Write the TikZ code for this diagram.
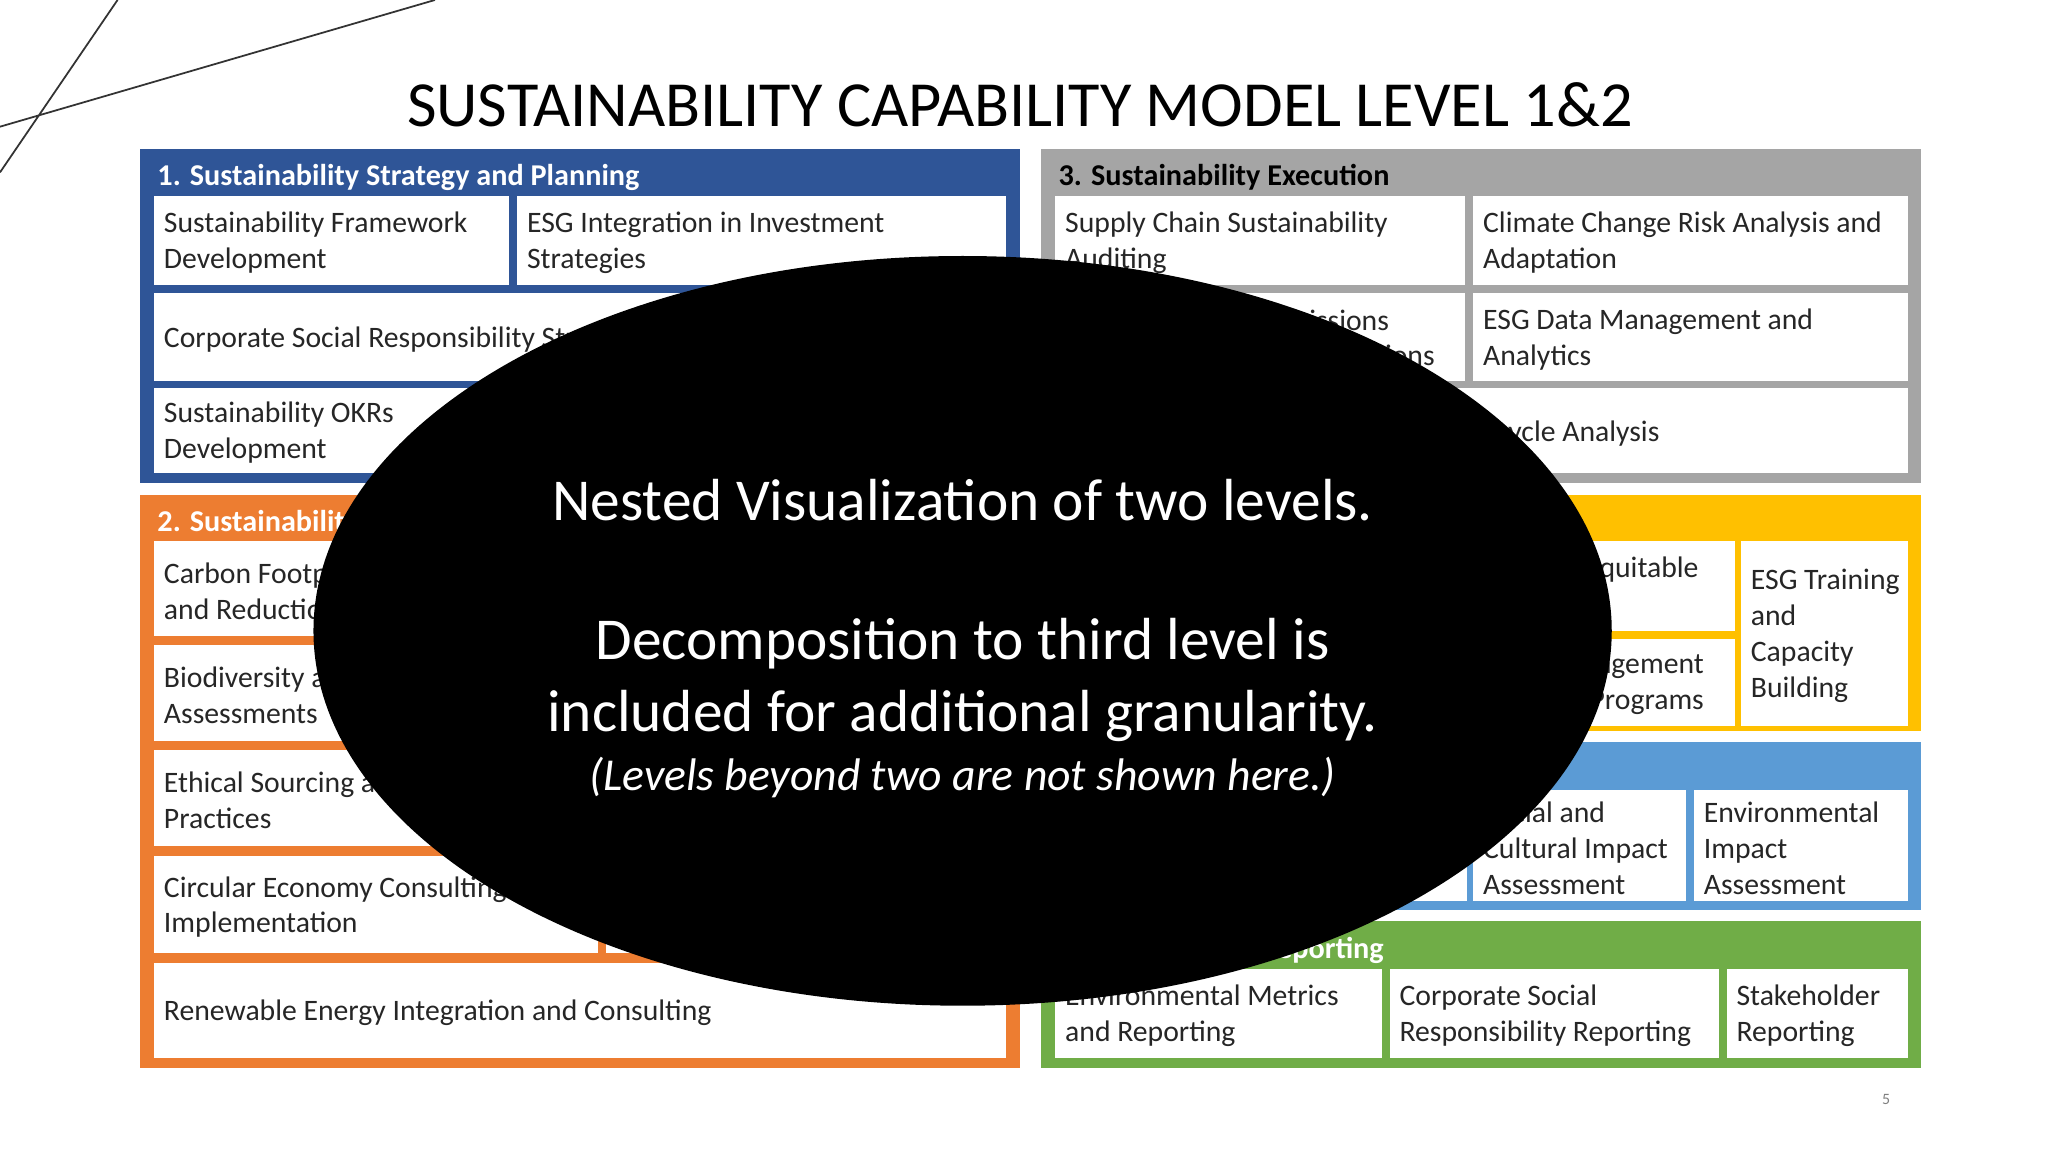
\documentclass[tikz,border=0pt]{standalone}
\usepackage{fontspec}
\setmainfont{Carlito}
\definecolor{pblue}{HTML}{2F5597}
\definecolor{porange}{HTML}{ED7D31}
\definecolor{pgray}{HTML}{A5A5A5}
\definecolor{pyellow}{HTML}{FFC000}
\definecolor{plblue}{HTML}{5B9BD5}
\definecolor{pgreen}{HTML}{70AD47}
\tikzset{
 panel/.style={fill=#1},
 cellrect/.style={fill=white},
 celltext/.style={anchor=west,align=left,font=\fontsize{8.45}{10.2}\selectfont,text=black!85,inner sep=0pt},
 headtext/.style={anchor=west,font=\fontsize{8.6}{10}\selectfont\bfseries,text=#1,inner sep=0pt},
 bigtext/.style={text=white,font=\fontsize{16.9}{20}\selectfont,inner sep=0pt},
}
\newcommand\mycell[6]{\fill[cellrect] (#1,#2) rectangle (#3,#4);
 \node[celltext] (#5) at ({#1+7},{(#2+#4)/2+2}) {#6};}
\begin{document}
\begin{tikzpicture}[x=0.01306cm,y=-0.01306cm]
\useasboundingbox (0,0) rectangle (1568,882);
\fill[white] (0,0) rectangle (1568,882);
\coordinate (l1a) at (0,97); \coordinate (l1b) at (333,0);
\coordinate (l2a) at (0,132); \coordinate (l2b) at (90,0);
\draw[black!80,line width=0.5pt] (l1a) -- (l1b) (l2a) -- (l2b);
\node[font=\fontsize{18.3}{21}\selectfont] (title) at (781,80) {SUSTAINABILITY CAPABILITY MODEL LEVEL 1\&2};
% panel 1
\fill[panel=pblue] (107,114) rectangle (781,370);
\node[headtext=white] (h1) at (120,136) {1. Sustainability Strategy and Planning};
\mycell{118}{150}{390}{218}{c11}{Sustainability Framework\\Development}
\mycell{396}{150}{770}{218}{c12}{ESG Integration in Investment\\Strategies}
\mycell{118}{224}{770}{292}{c13}{Corporate Social Responsibility Strategy}
\mycell{118}{297}{440}{362}{c14}{Sustainability OKRs\\Development}
\fill[cellrect] (446,297) rectangle (770,362);
% panel 2
\fill[panel=porange] (107,379) rectangle (781,818);
\node[headtext=white] (h2) at (120,401) {2. Sustainability};
\mycell{118}{414}{440}{487}{c21}{Carbon Footprint\\and Reduction}
\mycell{118}{494}{440}{567}{c22}{Biodiversity and\\Assessments}
\mycell{118}{574}{440}{648}{c23}{Ethical Sourcing and\\Practices}
\mycell{118}{655}{458}{730}{c24}{Circular Economy Consulting\\Implementation}
\fill[cellrect] (464,655) rectangle (770,730);
\mycell{118}{737}{770}{810}{c25}{Renewable Energy Integration and Consulting}
% panel 3
\fill[panel=pgray] (797,114) rectangle (1471,370);
\node[headtext=black] (h3) at (810,136) {3. Sustainability Execution};
\mycell{808}{150}{1122}{218}{c31}{Supply Chain Sustainability\\Auditing}
\mycell{1128}{150}{1461}{218}{c32}{Climate Change Risk Analysis and\\Adaptation}
\fill[cellrect] (808,224) rectangle (1122,292);
\node[celltext,anchor=east] (c33a) at (1064,245) {Emissions};
\node[celltext,anchor=east] (c33b) at (1099,272) {Solutions};
\mycell{1128}{224}{1461}{292}{c34}{ESG Data Management and\\Analytics}
\fill[cellrect] (808,297) rectangle (1461,362);
\node[celltext,anchor=east] (c35) at (1271,332) {Lifecycle Analysis};
% panel 4
\fill[panel=pyellow] (797,379) rectangle (1471,560);
\fill[cellrect] (808,414) rectangle (1328,483);
\node[celltext,anchor=east] (c41) at (1301,436) {Equitable};
\fill[cellrect] (808,489) rectangle (1328,556);
\node[celltext,anchor=east,align=right] (c42) at (1305,524) {Management\\Programs};
\mycell{1333}{414}{1461}{556}{c43}{ESG Training\\and\\Capacity\\Building}
% panel 5
\fill[panel=plblue] (797,568) rectangle (1471,697);
\fill[cellrect] (808,605) rectangle (1123,690);
\mycell{1128}{605}{1291}{690}{c51}{Social and\\Cultural Impact\\Assessment}
\mycell{1297}{605}{1461}{690}{c52}{Environmental\\Impact\\Assessment}
% panel 6
\fill[panel=pgreen] (797,705) rectangle (1471,818);
\node[headtext=white,anchor=east] (h6) at (1060,728) {Reporting};
\mycell{808}{742}{1058}{810}{c61}{Environmental Metrics\\and Reporting}
\mycell{1064}{742}{1316}{810}{c62}{Corporate Social\\Responsibility Reporting}
\mycell{1322}{742}{1461}{810}{c63}{Stakeholder\\Reporting}
% ellipse
\fill[black] (737,483) ellipse [x radius=497,y radius=287];
\node[bigtext] (t1) at (737,383) {Nested Visualization of two levels.};
\node[bigtext] (t2) at (737,493) {Decomposition to third level is};
\node[bigtext] (t3) at (737,548) {included for additional granularity.};
\node[bigtext,font=\fontsize{13}{16}\selectfont\itshape] (t4) at (737,595) {(Levels beyond two are not shown here.)};
\node[text=black!50,font=\fontsize{4.5}{5}\selectfont] (pg) at (1444,842) {5};
\end{tikzpicture}
\end{document}
